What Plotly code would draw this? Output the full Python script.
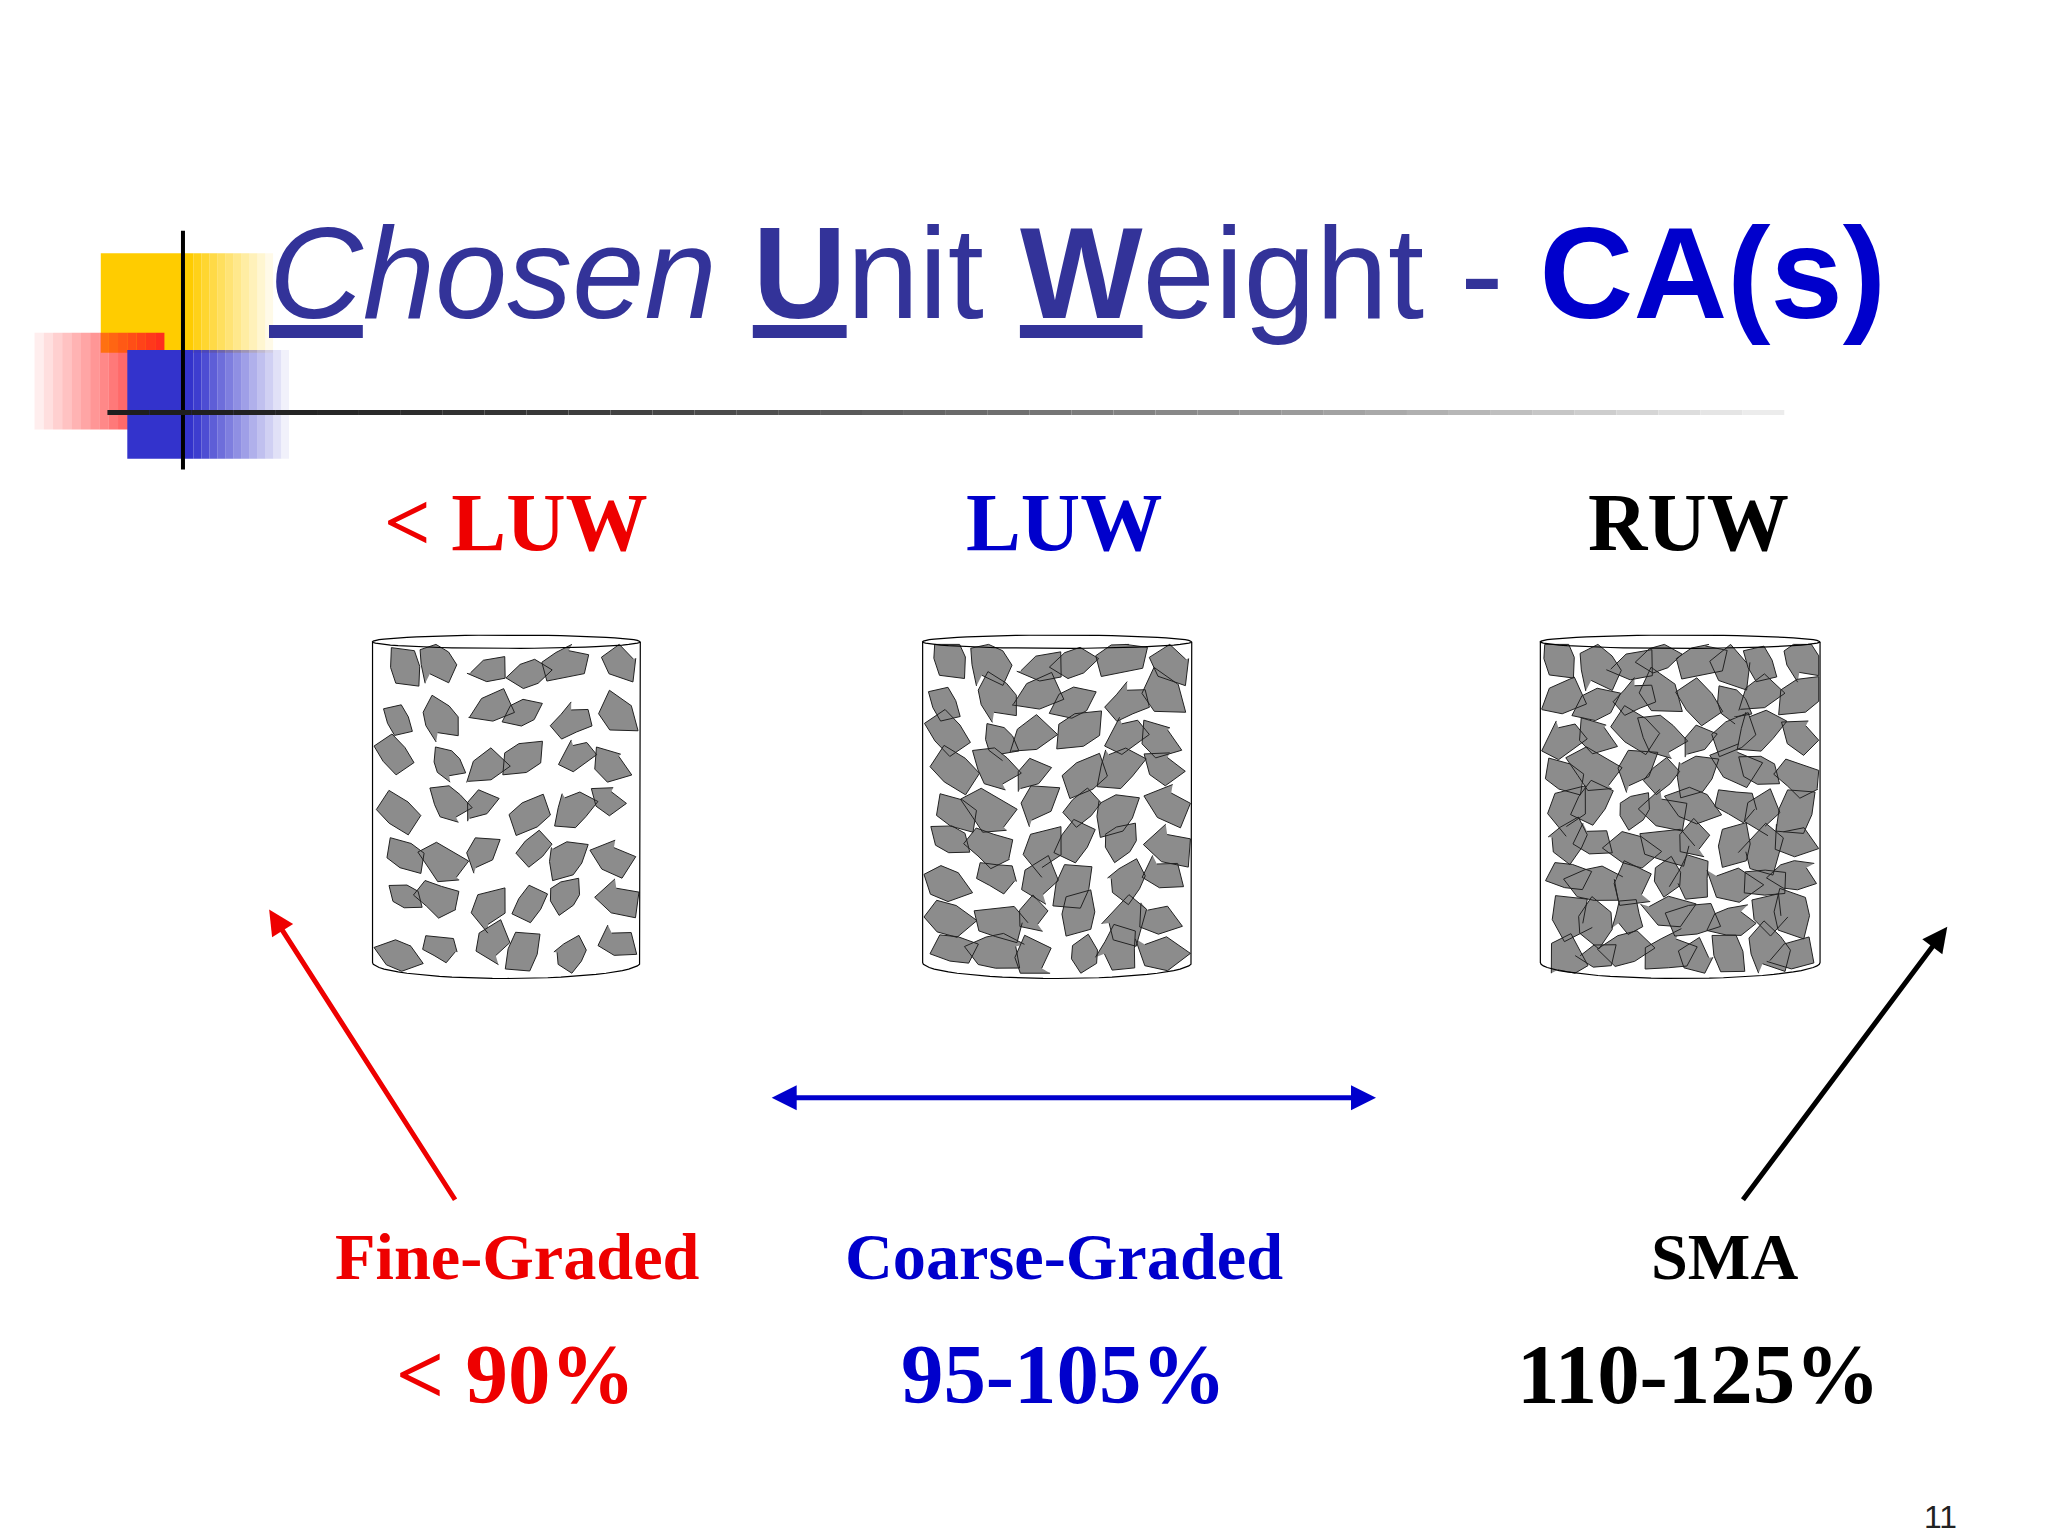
import math
import plotly.graph_objects as go

# ---- content ----
top_labels = ["< LUW", "LUW", "RUW"]
bottom_labels = ["Fine-Graded", "Coarse-Graded", "SMA"]
percent_labels = ["< 90%", "95-105%", "110-125%"]
label_colors = ["#EE0000", "#0000CC", "#000000"]
page_number = "11"

W, H = 1545, 1157
S = 2048 / W

fig = go.Figure()

def rect(x0, y0, x1, y1, color, op=1.0):
    fig.add_shape(type="rect", x0=x0, y0=y0, x1=x1, y1=y1, fillcolor=color,
                  line_width=0, opacity=op, layer="below")

rect(70, 185, 140, 260, "#FFCC00")
for i in range(10):
    rect(140 + i * 6, 185, 146 + i * 6, 260, "#FFCC00", 0.9 - i * 0.09)
for i in range(14):
    rect(20 + i * 7, 245, 27 + i * 7, 318, "#FF2020", 0.08 + i * 0.065)
rect(90, 258, 140, 340, "#3333CC")
for i in range(12):
    rect(140 + i * 6, 258, 146 + i * 6, 340, "#3333CC", 0.95 - i * 0.08)
fig.add_shape(type="line", x0=132, y0=168, x1=132, y1=348, line=dict(color="black", width=4))
segs = 40
for i in range(segs):
    x0 = 75 + i * (1340 - 75) / segs
    x1 = 75 + (i + 1) * (1340 - 75) / segs
    g = int(30 + 215 * (i / segs) ** 1.5)
    fig.add_shape(type="line", x0=x0, y0=305, x1=x1, y1=305,
                  line=dict(color=f"rgb({g},{g},{g})", width=5))

fig.add_annotation(x=807, y=200, xref="x", yref="y", showarrow=False,
    text="<i><u>C</u>hosen</i> <b><u>U</u></b>nit <b><u>W</u></b>eight - <b><span style='color:#0000CC'>CA(s)</span></b>",
    font=dict(family="Liberation Sans, Arial", size=98 * S, color="#333399"))

cyls = [(275, 477, 40, 0.6), (690, 893, 50, 0.78), (1156, 1367, 70, 0.85)]
for ci, (x0, x1, n, sz) in enumerate(cyls):
    yt, yb = 478, 720
    cx, rx = (x0 + x1) / 2, (x1 - x0) / 2
    xs, ys = [], []
    cols = int(round(math.sqrt(n * (x1 - x0) / (yb - yt))))
    rows = int(math.ceil(n / cols))
    dx = (x1 - x0 - 10) / cols
    dy = (yb - yt + 5) / rows
    k = 0
    for r in range(rows):
        for c in range(cols):
            k += 1
            px = x0 + 5 + dx * (c + 0.5 + 0.15 * math.sin(k * 2.3 + ci))
            py = yt + 2 + dy * (r + 0.5 + 0.15 * math.cos(k * 1.7 + ci))
            rad = min(dx, dy) * sz * (0.75 + 0.3 * abs(math.sin(k * 0.91 + ci * 3)))
            m = 5 + (k % 3)
            for j in range(m + 1):
                a = 2 * math.pi * (j % m) / m + k
                rr = rad * (0.8 + 0.25 * math.sin(j * 2.1 + k))
                xs.append(min(max(px + rr * math.cos(a), x0 + 1), x1 - 1))
                ys.append(min(max(py + rr * math.sin(a) * 0.9, yt + 2), yb + 8))
            xs.append(None); ys.append(None)
    fig.add_trace(go.Scatter(x=xs, y=ys, mode="lines", fill="toself", fillcolor="#8C8C8C",
                             line=dict(color="#222222", width=1), hoverinfo="skip", showlegend=False))
    ex = [cx + rx * math.cos(t / 60 * 2 * math.pi) for t in range(61)]
    ey = [yt + 5 * math.sin(t / 60 * 2 * math.pi) for t in range(61)]
    fig.add_trace(go.Scatter(x=ex, y=ey, mode="lines", line=dict(color="black", width=1.2),
                             hoverinfo="skip", showlegend=False))
    bx = [cx + rx * math.cos(t / 30 * math.pi) for t in range(31)]
    by = [yb + 12 * math.sin(t / 30 * math.pi) for t in range(31)]
    fig.add_trace(go.Scatter(x=[x1, x1] + bx + [x0, x0], y=[yt, yb] + by + [yb, yt], mode="lines",
                             line=dict(color="black", width=1.2), hoverinfo="skip", showlegend=False))

def arrow(xt, yt_, xh, yh, color, side="end"):
    fig.add_annotation(x=xh, y=yh, ax=xt, ay=yt_, xref="x", yref="y", axref="x", ayref="y",
                       showarrow=True, arrowhead=2, startarrowhead=2, arrowside=side,
                       arrowsize=1.0, startarrowsize=1.0, arrowwidth=5,
                       arrowcolor=color, text="")

arrow(338, 900, 197, 680, "#EE0000")
arrow(1308, 900, 1463, 693, "#000000")
arrow(575, 822, 1032, 822, "#0000CC", "end+start")

top_x = [383, 797, 1268]
bot_x = [384, 797, 1295]
pct_x = [383, 796, 1275]
for i in range(3):
    fig.add_annotation(x=top_x[i], y=388, text=f"<b>{top_labels[i]}</b>", showarrow=False,
                       font=dict(family="Liberation Serif, Times New Roman", size=62 * S, color=label_colors[i]))
    fig.add_annotation(x=bot_x[i], y=942, text=f"<b>{bottom_labels[i]}</b>", showarrow=False,
                       font=dict(family="Liberation Serif, Times New Roman", size=50 * S, color=label_colors[i]))
    fig.add_annotation(x=pct_x[i], y=1030, text=f"<b>{percent_labels[i]}</b>", showarrow=False,
                       font=dict(family="Liberation Serif, Times New Roman", size=64 * S, color=label_colors[i]))

fig.add_annotation(x=1458, y=1138, text=page_number, showarrow=False,
                   font=dict(family="Liberation Sans, Arial", size=24 * S, color="#222222"))

fig.update_layout(width=2048, height=1534, margin=dict(l=0, r=0, t=0, b=0),
                  paper_bgcolor="white", plot_bgcolor="white",
                  xaxis=dict(range=[0, W], visible=False, fixedrange=True),
                  yaxis=dict(range=[H, 0], visible=False, fixedrange=True))
fig.write_html("out.html")
